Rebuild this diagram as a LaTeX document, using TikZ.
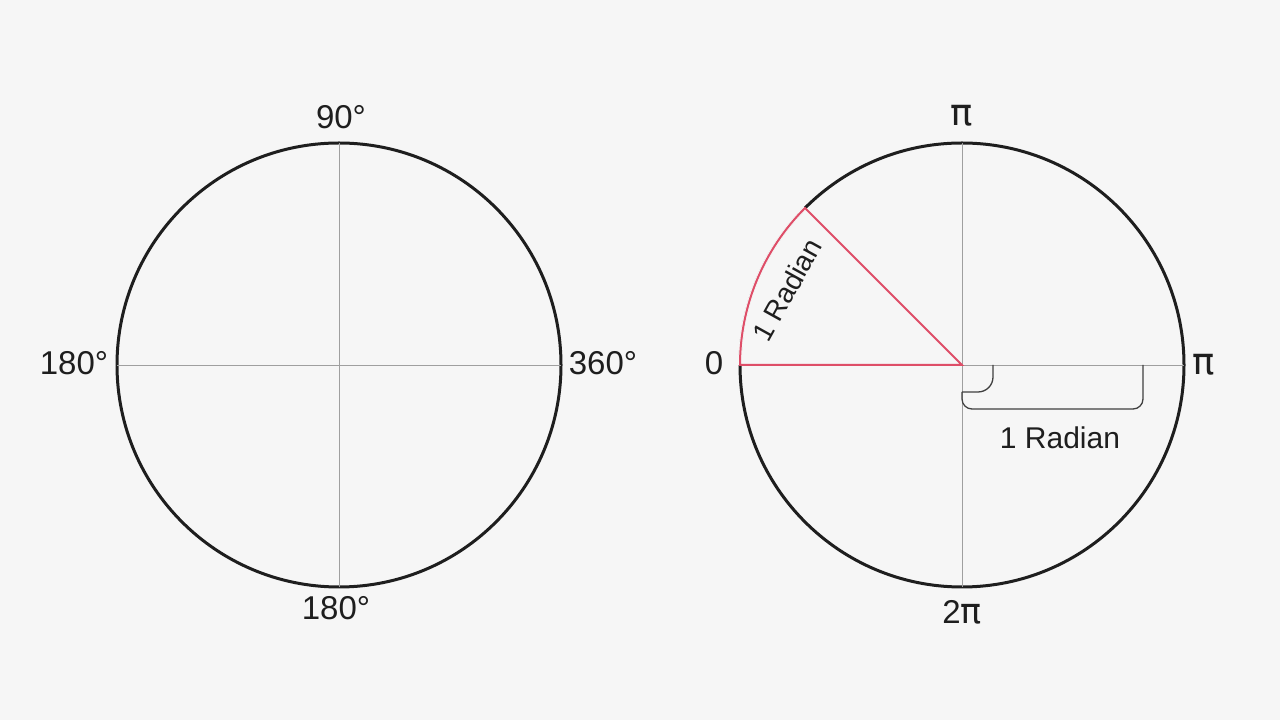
\documentclass[tikz,border=0pt]{standalone}
\usepackage{fontspec}
\setmainfont{Liberation Sans}
\newfontfamily\pifont{DejaVu Sans}
\definecolor{bg}{RGB}{246,246,246}
\definecolor{redline}{RGB}{222,78,104}
\definecolor{ink}{RGB}{30,30,30}
\begin{document}
\begin{tikzpicture}[x=1pt,y=1pt,
  lbl/.style={font=\fontsize{33}{38}\selectfont, text=ink, inner sep=0pt},
  pilbl/.style={font=\pifont\fontsize{37}{42}\selectfont, text=ink, inner sep=0pt},
  radlbl/.style={font=\fontsize{30}{36}\selectfont, text=ink, inner sep=0pt},
  ring/.style={circle, draw=ink, line width=3pt, minimum size=444pt, inner sep=0pt, outer sep=0pt},
  axis/.style={line width=0.9pt, draw=gray!75},
  rad/.style={line width=2pt, draw=redline},
  brk/.style={line width=1.3pt, draw=ink!85}]
\fill[bg] (0,0) rectangle (1280,720);
\useasboundingbox (0,0) rectangle (1280,720);
% left circle
\node[ring] (cL) at (339,355) {};
\draw[axis] (cL.west) -- (cL.east);
\draw[axis] (cL.north) -- (cL.south);
\node[lbl] (l90) at (341,603) {90°};
\node[lbl] (l180a) at (74,357) {180°};
\node[lbl] (l360) at (603,357) {360°};
\node[lbl] (l180b) at (336,112) {180°};
% right circle
\node[ring] (cR) at (962,355) {};
\draw[axis] (cR.center) -- (cR.east);
\draw[axis] (cR.north) -- (cR.south);
\draw[bg, line width=4pt] (cR.west) arc[start angle=180, end angle=135, radius=222pt];
\draw[rad] (cR.center) -- (cR.west) arc[start angle=180, end angle=135, radius=222pt] -- cycle;
\node[pilbl] (pitop) at (962,604) {π};
\node[lbl] (zero) at (714,357) {0};
\node[pilbl] (piright) at (1204,355) {π};
\node[lbl] (twopi) at (962,108) {2{\pifont\fontsize{35}{40}\selectfont π}};
\node[radlbl, rotate=61, font=\fontsize{28}{32}\selectfont] (radarc) at (787,430) {1 Radian};
% brackets
\coordinate (b1) at (993,355);
\coordinate (b2) at (962,328);
\coordinate (b3) at (1143,355);
\draw[brk, rounded corners=15pt] (b1) -- (b1 |- b2) -- (b2);
\draw[brk, rounded corners=10pt] (b2) -- (962,311) -- (1143,311) -- (b3);
\node[radlbl] (radtext) at (1060,282) {1 Radian};
\end{tikzpicture}
\end{document}
